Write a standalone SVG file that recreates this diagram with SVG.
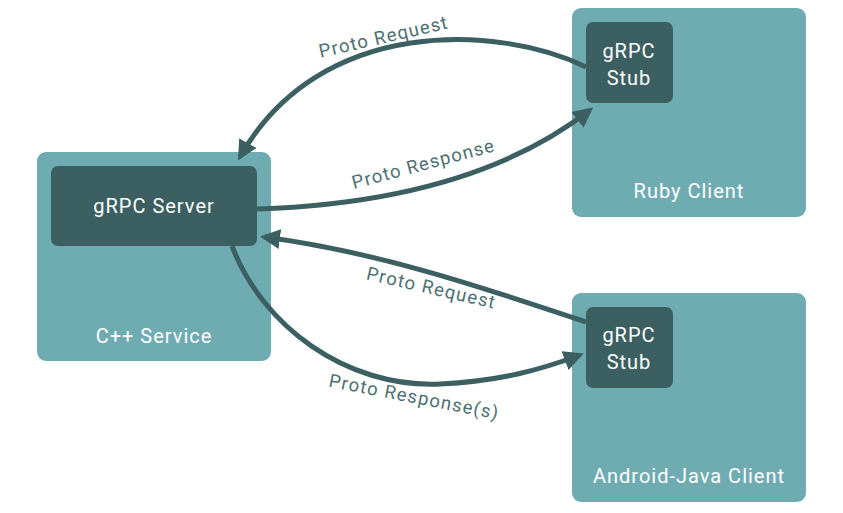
<svg xmlns="http://www.w3.org/2000/svg" width="843" height="513" viewBox="0 0 843 513">
<style>
.outer{fill:#6eacb2}
.inner{fill:#3c5f61}
.nt{fill:#ffffff;font-family:Roboto,"Liberation Sans",sans-serif;font-size:20px;letter-spacing:1px;text-anchor:middle}
.lbl{fill:#4d7173;font-family:Roboto,"Liberation Sans",sans-serif;font-size:18.5px;letter-spacing:1.2px;text-anchor:middle}
.conn{fill:none;stroke:#3c5f61;stroke-width:5}
</style>
<defs>
<marker id="ah" viewBox="0 0 10 10" refX="8" refY="5" markerWidth="4" markerHeight="4" orient="auto" markerUnits="strokeWidth">
<path d="M0,0 L10,5 L0,10 Z" fill="#3c5f61"/>
</marker>
</defs>
<rect width="843" height="513" fill="#ffffff"/>
<g id="cpp-service">
<rect class="outer" x="37" y="152" width="234" height="209" rx="9"/>
<text class="nt" x="154" y="343">C++ Service</text>
</g>
<g id="grpc-server">
<rect class="inner" x="51" y="166" width="206" height="80" rx="7"/>
<text class="nt" x="154" y="213">gRPC Server</text>
</g>
<g id="ruby-client">
<rect class="outer" x="572" y="8" width="234" height="209" rx="9"/>
<text class="nt" x="689" y="198">Ruby Client</text>
</g>
<g id="ruby-stub">
<rect class="inner" x="586" y="22" width="87" height="81" rx="7"/>
<text class="nt" x="629" y="58">gRPC</text>
<text class="nt" x="629" y="85">Stub</text>
</g>
<g id="android-client">
<rect class="outer" x="572" y="293" width="234" height="209" rx="9"/>
<text class="nt" x="689" y="483">Android-Java Client</text>
</g>
<g id="android-stub">
<rect class="inner" x="586" y="307" width="87" height="81" rx="7"/>
<text class="nt" x="629" y="342">gRPC</text>
<text class="nt" x="629" y="369">Stub</text>
</g>
<g id="connectors">
<path class="conn" marker-end="url(#ah)" d="M586,67 C500,25 320,15 240,157"/>
<path class="conn" marker-end="url(#ah)" d="M257,209 C380,205 500,180 590,110"/>
<path class="conn" marker-end="url(#ah)" d="M586,322 C490,290 380,252 264,237"/>
<path class="conn" marker-end="url(#ah)" d="M232,246 C262,325 345,388 440,384 C500,381 540,370 580,355"/>
<text class="lbl" transform="translate(385,43) rotate(-13)">Proto Request</text>
<text class="lbl" transform="translate(425,170) rotate(-15)">Proto Response</text>
<text class="lbl" transform="translate(430,294) rotate(13)">Proto Request</text>
<text class="lbl" transform="translate(413,403) rotate(11)">Proto Response(s)</text>
</g>
</svg>
